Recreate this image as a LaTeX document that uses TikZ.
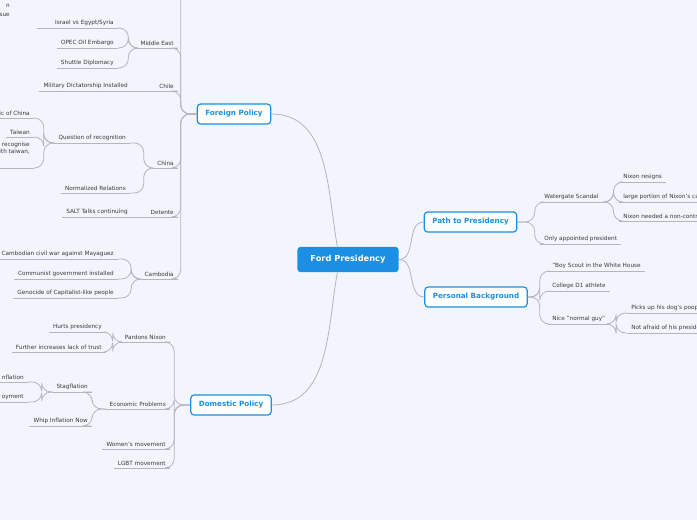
\documentclass[tikz,border=0pt]{standalone}
\usepackage{fontspec}
\setmainfont{DejaVu Sans}
\definecolor{bg}{HTML}{F3F5FC}
\definecolor{mblue}{HTML}{1A8FE3}
\definecolor{lgray}{HTML}{B4B6BE}
\definecolor{txt}{HTML}{3A3A3A}
\newcommand{\leaffont}{\fontsize{4.3}{5.4}\selectfont}
\newcommand{\mainfont}{\fontsize{5.4}{6.5}\selectfont\bfseries}
\tikzset{
  br/.style={draw=lgray, line width=0.6pt, rounded corners=7pt},
  leaf/.style={font=\leaffont, text=txt, inner xsep=3pt, inner ysep=1.3pt, align=right},
  rleaf/.style={leaf, align=left},
  topic/.style={draw=mblue, line width=0.9pt, fill=white, rounded corners=2.5pt, text=mblue,
    font=\mainfont, minimum height=15pt, inner xsep=6pt},
  root/.style={fill=mblue, rounded corners=2.5pt, text=white, font=\fontsize{6.2}{7.5}\selectfont\bfseries,
    minimum width=76pt, minimum height=19pt}
}
\begin{document}
\begin{tikzpicture}[x=0.75pt,y=-0.75pt]
\fill[bg] (0,0) rectangle (697,520);
\useasboundingbox (0,0) rectangle (697,520);
\clip (0,0) rectangle (697,520);
% main topics
\node[root] (ford) at (348,259.5) {Ford Presidency};
\node[topic] (fp) at (234,114) {Foreign Policy};
\node[topic] (dp) at (231,405) {Domestic Policy};
\node[topic] (pp) at (470.5,222) {Path to Presidency};
\node[topic] (pb) at (476,297) {Personal Background};
\draw[br] ([xshift=-8pt]ford.north) to[out=100,in=0] (fp.east);
\draw[br] ([xshift=-8pt]ford.south) to[out=-100,in=0] (dp.east);
\draw[br] (ford.east) to[out=0,in=180] (pp.west);
\draw[br] (ford.east) to[out=0,in=180] (pb.west);
% foreign policy
\coordinate (fp0) at (178,-30);
\node[leaf,anchor=south east] (me) at (178,48) {Middle East};
\node[leaf,anchor=south east] (chile) at (178,91) {Chile};
\node[leaf,anchor=south east] (china) at (178,168) {China};
\node[leaf,anchor=south east] (det) at (178,217) {Detente};
\node[leaf,anchor=south east] (camb) at (178,279) {Cambodia};
\foreach \n in {fp0,me,chile,china,det,camb}
  \draw[br] (fp.west) -- ++(-12pt,0) |- (\n.south east);
% middle east
\node[leaf,anchor=south east] (isr) at (118,28) {Israel vs Egypt/Syria};
\node[leaf,anchor=south east] (opec) at (118,48) {OPEC Oil Embargo};
\node[leaf,anchor=south east] (shut) at (118,68) {Shuttle Diplomacy};
\node[leaf,anchor=south east] (t1) at (14,10) {n};
\node[leaf,anchor=south east] (t2) at (14,19) {issue};
\foreach \n in {isr,opec,shut}
  \draw[br] (me.south west) -- ++(-6pt,0) |- (\n.south east);
\draw[br] (isr.south west) -- ++(-10pt,0);
% chile
\node[leaf,anchor=south east] (mil) at (132,91) {Military Dictatorship Installed};
\draw[br] (chile.south west) -- (mil.south east);
% china
\node[leaf,anchor=south east] (qor) at (130,143) {Question of recognition};
\node[leaf,anchor=south east] (norm) at (130,193) {Normalized Relations};
\foreach \n in {qor,norm}
  \draw[br] (china.south west) -- ++(-7pt,0) |- (\n.south east);
\node[leaf,anchor=south east] (prc) at (34,118) {lic of China};
\node[leaf,anchor=south east] (tw) at (34,137) {Taiwan};
\node[leaf,anchor=south east] (rec) at (34,168) {recognise\\with taiwan,\\[4pt]};
\foreach \n in {prc,tw,rec}
  \draw[br] (qor.south west) -- ++(-8pt,0) |- (\n.south east);
% detente
\node[leaf,anchor=south east] (salt) at (132,217) {SALT Talks continuing};
\draw[br] (det.south west) -- (salt.south east);
% cambodia
\node[leaf,anchor=south east] (may) at (118,259) {e Cambodian civil war against Mayaguez};
\node[leaf,anchor=south east] (comm) at (118,279) {Communist government installed};
\node[leaf,anchor=south east] (gen) at (118,298) {Genocide of Capitalist-like people};
\foreach \n in {may,comm,gen}
  \draw[br] (camb.south west) -- ++(-7pt,0) |- (\n.south east);
% domestic policy
\node[leaf,anchor=south east] (par) at (170,342) {Pardons Nixon};
\node[leaf,anchor=south east] (eco) at (170,409) {Economic Problems};
\node[leaf,anchor=south east] (wom) at (170,449) {Women's movement};
\node[leaf,anchor=south east] (lgbt) at (170,468) {LGBT movement};
\foreach \n in {par,eco,wom,lgbt}
  \draw[br] (dp.west) -- ++(-12pt,0) |- (\n.south east);
\node[leaf,anchor=south east] (hurt) at (106,332) {Hurts presidency};
\node[leaf,anchor=south east] (trust) at (106,352) {Further increases lack of trust};
\foreach \n in {hurt,trust}
  \draw[br] (par.south west) -- ++(-6pt,0) |- (\n.south east);
\node[leaf,anchor=south east] (stag) at (92,392) {Stagflation};
\node[leaf,anchor=south east] (win) at (92,426) {Whip Inflation Now};
\foreach \n in {stag,win}
  \draw[br] (eco.south west) -- ++(-10pt,0) |- (\n.south east);
\node[leaf,anchor=south east] (infl) at (28,382) {nflation};
\node[leaf,anchor=south east] (unem) at (28,402) {oyment};
\foreach \n in {infl,unem}
  \draw[br] (stag.south west) -- ++(-8pt,0) |- (\n.south east);
% path to presidency
\node[rleaf,anchor=south west] (wat) at (540,202) {Watergate Scandal};
\node[rleaf,anchor=south west] (only) at (540,244) {Only appointed president};
\foreach \n in {wat,only}
  \draw[br] (pp.east) -- ++(13pt,0) |- (\n.south west);
\node[rleaf,anchor=south west] (res) at (619,182) {Nixon resigns};
\node[rleaf,anchor=south west] (cab) at (619,202) {large portion of Nixon's cabinet};
\node[rleaf,anchor=south west] (ncon) at (619,221) {Nixon needed a non-controversial};
\foreach \n in {res,cab,ncon}
  \draw[br] (wat.south east) -- ++(8pt,0) |- (\n.south west);
% personal background
\node[rleaf,anchor=south west] (boy) at (548,271) {"Boy Scout in the White House};
\node[rleaf,anchor=south west] (col) at (548,291) {College D1 athlete};
\node[rleaf,anchor=south west] (nice) at (548,324) {Nice "normal guy"};
\foreach \n in {boy,col,nice}
  \draw[br] (pb.east) -- ++(9pt,0) |- (\n.south west);
\node[rleaf,anchor=south west] (poop) at (627,313) {Picks up his dog's poop};
\node[rleaf,anchor=south west] (afr) at (627,333) {Not afraid of his presidency};
\foreach \n in {poop,afr}
  \draw[br] (nice.south east) -- ++(5pt,0) |- (\n.south west);
% underlines
\foreach \n in {me,chile,china,det,camb,isr,opec,shut,mil,qor,norm,prc,tw,rec,salt,may,comm,gen,
  par,eco,wom,lgbt,hurt,trust,stag,win,infl,unem,wat,only,res,cab,ncon,boy,col,nice,poop,afr}
  \draw[br] (\n.south west) -- (\n.south east);
\end{tikzpicture}
\end{document}
